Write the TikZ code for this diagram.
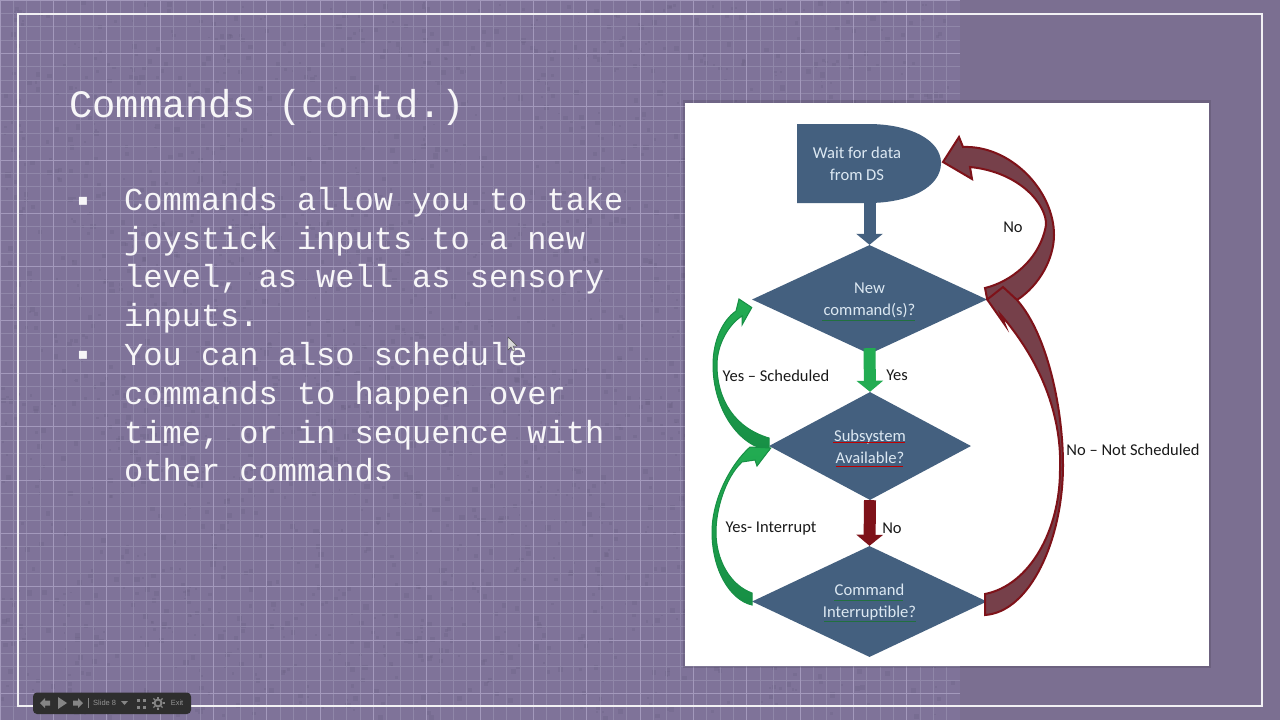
\documentclass[tikz,border=0pt]{standalone}
\usepackage{fontspec}
\setmainfont{Liberation Mono}
\newfontfamily\flowfont{Carlito}
\newfontfamily\barfont{Liberation Sans}
\newfontfamily\symfont{DejaVu Sans}
\usetikzlibrary{arrows.meta,shapes.geometric}
\definecolor{slideback}{HTML}{7B6F91}
\definecolor{gridback}{HTML}{7F7399}
\definecolor{gridspeck}{HTML}{6B6084}
\definecolor{gridminor}{HTML}{9087A9}
\definecolor{gridmajor}{HTML}{A399BC}
\definecolor{flowblue}{HTML}{44607F}
\definecolor{flowtext}{HTML}{DCE8F2}
\definecolor{flowgreen}{HTML}{22AC52}
\definecolor{flowdark}{HTML}{178F45}
\definecolor{flowred}{HTML}{7E1219}
\definecolor{curvefill}{HTML}{76404A}
\newcommand{\flowstrut}{\rule{0pt}{13pt}}
\tikzset{
  flowdiamond/.style={diamond,fill=flowblue,text=flowtext,inner sep=0pt,align=center,
    font=\flowfont\fontsize{16.6}{22}\selectfont},
  flowlabel/.style={text=black!90,inner sep=0pt,font=\flowfont\fontsize{16.5}{18}\selectfont},
  blockarrow/.style={line width=12pt,-{Triangle[length=11pt,width=26pt]}},
  curvered/.style={fill=curvefill,draw=flowred,line width=2pt,line join=miter},
  curvegreen/.style={top color=flowgreen,bottom color=flowdark,draw=flowdark,line width=1pt},
  spellred/.style={draw=red!75!black,line width=1pt},
  spellgreen/.style={draw=green!50!black,line width=0.7pt,opacity=0.5},
  barmark/.style={fill=black!48},
  barlabel/.style={text=black!42,inner sep=0pt,font=\barfont\fontsize{7.5}{9}\selectfont},
}
\begin{document}
\begin{tikzpicture}[x=1pt,y=-1pt]
  \useasboundingbox (0,0) rectangle (1280,720);
  \clip (0,0) rectangle (1280,720);
  % slide background
  \fill[slideback] (0,0) rectangle (1280,720);
  \fill[gridback] (0,0) rectangle (960,720);
  \pgfmathsetseed{8}
  \foreach \i in {1,...,2200} {
    \pgfmathsetmacro{\px}{rnd*955}
    \pgfmathsetmacro{\py}{rnd*716}
    \pgfmathsetmacro{\ps}{1.5+rnd*4}
    \fill[gridspeck,opacity=0.3] (\px,\py) rectangle (\px+\ps,\py+\ps);
  }
  \foreach \i in {0,...,71} {
    \draw[gridminor,line width=0.5pt] (\i*13.333,0) -- (\i*13.333,720);
  }
  \foreach \i in {0,...,54} {
    \draw[gridminor,line width=0.5pt] (0,\i*13.333) -- (960,\i*13.333);
  }
  \foreach \i in {0,...,17} {
    \draw[gridmajor,line width=0.7pt] (\i*53.333,0) -- (\i*53.333,720);
  }
  \foreach \i in {0,...,13} {
    \draw[gridmajor,line width=0.7pt] (0,\i*53.333) -- (960,\i*53.333);
  }
  \draw[white!90!slideback,line width=1.4pt] (18,14) rectangle (1262,706);
  % left text
  \node[anchor=base west,inner sep=0pt,text=white!94!slideback,font=\fontsize{38.8}{40}\selectfont] (title) at (69,117) {Commands (contd.)};
  \node[anchor=north west,inner sep=0pt,text=white!94!slideback,align=left,font=\fontsize{32}{38.8}\selectfont] (body) at (124,187) {Commands allow you to take\\joystick inputs to a new\\level, as well as sensory\\inputs.\\You can also schedule\\commands to happen over\\time, or in sequence with\\other commands};
  \node[text=white!94!slideback,inner sep=0pt,font=\symfont\fontsize{16}{16}\selectfont] (bulleta) at (83,201) {▪};
  \node[text=white!94!slideback,inner sep=0pt,font=\symfont\fontsize{16}{16}\selectfont] (bulletb) at (83,355) {▪};
  \fill[white!85!black,draw=black!70,line width=0.4pt] (508,337) -- (508,350) -- (511,347) -- (513,351) -- (515,350) -- (513,346) -- (517,346) -- cycle;
  % picture panel
  \fill[black,opacity=0.12] (683,100) rectangle (1211,668);
  \fill[white] (685,103) rectangle (1209,666);
  % flowchart
  \fill[flowblue] (797,124) -- (868,124) .. controls (910,124) and (941,140) .. (941,163) .. controls (941,187) and (910,203) .. (868,203) -- (797,203) -- cycle;
  \node[text=flowtext,inner sep=0pt,minimum width=120pt,minimum height=79pt,align=center,font=\flowfont\fontsize{16.6}{22}\selectfont] (wait) at (857,163.5) {Wait for data\\from DS};
  \node[flowdiamond,aspect=2.156,minimum width=235pt,minimum height=109pt] (new) at (869.5,299.5) {\flowstrut New\\command(s)?};
  \node[flowdiamond,aspect=1.87,minimum width=202pt,minimum height=108pt] (sub) at (870,446) {\flowstrut Subsystem\\Available?};
  \node[flowdiamond,aspect=2.117,minimum width=235pt,minimum height=111pt] (cmd) at (869.5,601.5) {\flowstrut Command\\Interruptible?};
  \draw[spellred] (833,442.5) -- (905,442.5);
  \draw[spellred] (836,466) -- (903,466);
  \draw[spellgreen] (822,320) -- (915,320);
  \draw[spellgreen] (834,600) -- (903,600);
  \draw[spellgreen] (824,621.5) -- (916,621.5);
  % straight arrows
  \draw[blockarrow,flowblue] (wait.south -| new.north) -- (new.north);
  \draw[blockarrow,flowgreen] ([yshift=6pt]new.south) -- (sub.north);
  \draw[blockarrow,flowred] (sub.south) -- (cmd.north);
  % curved arrows
  \draw[curvered] (985,288) .. controls (1010,282) and (1040,260) .. (1046,225) .. controls (1047,205) and (1020,172) .. (970,167) -- (972,179) -- (943,162) -- (959,137) -- (963,147) .. controls (1010,145) and (1054,190) .. (1054,235) .. controls (1054,258) and (1040,285) .. (1017,300) -- (new.east) -- cycle;
  \draw[curvered] (985,594) .. controls (1030,585) and (1060,530) .. (1060,470) .. controls (1062,420) and (1044,365) .. (1001,315) -- (1005,325) -- (new.east) -- (1003,287) -- (1017,300) .. controls (1048,335) and (1063,410) .. (1063,465) .. controls (1063,540) and (1030,612) .. (985,615) -- cycle;
  \draw[curvegreen] (713,365) .. controls (713,340) and (723,320) .. (736,311) -- (739,299) -- ([yshift=-8pt]new.west) -- (742,325) -- (742,316) .. controls (728,325) and (717,345) .. (717,365) .. controls (717,400) and (735,428) .. (769,438) -- (769,450) .. controls (740,447) and (713,410) .. (713,365) -- cycle;
  \draw[curvegreen] (752,593) .. controls (730,585) and (716,560) .. (716,532) .. controls (716,510) and (725,478) .. (742,462) -- (755,460) -- (757,466) -- ([xshift=2pt,yshift=-2pt]sub.west) -- (750,447) .. controls (730,465) and (712,500) .. (712,532) .. controls (712,570) and (730,600) .. (752,605) -- cycle;
  % labels
  \node[flowlabel] (lblno) at (1013,227) {No};
  \node[flowlabel] (lblsched) at (776,375.5) {Yes – Scheduled};
  \node[flowlabel] (lblyes) at (897,375.5) {Yes};
  \node[flowlabel] (lblint) at (771,528.5) {Yes- Interrupt};
  \node[flowlabel] (lblnob) at (892,528.5) {No};
  \node[flowlabel] (lblnot) at (1133,450) {No – Not Scheduled};
  % slide show toolbar
  \fill[black!82,rounded corners=4pt] (33,692.5) rectangle (191,714);
  \fill[barmark] (40,703) -- (45,698) -- (45,700.5) -- (50,700.5) -- (50,705.5) -- (45,705.5) -- (45,708) -- cycle;
  \fill[barmark] (58,697) -- (67,703) -- (58,709) -- cycle;
  \fill[barmark] (83,703) -- (78,698) -- (78,700.5) -- (73,700.5) -- (73,705.5) -- (78,705.5) -- (78,708) -- cycle;
  \draw[black!48,line width=0.6pt] (88.5,698) -- (88.5,708);
  \node[barlabel,anchor=west] (slidenr) at (93,702.5) {Slide 8};
  \fill[barmark] (121,701) -- (128,701) -- (124.5,705) -- cycle;
  \foreach \ax/\ay in {137/699,143/699,137/706,143/706} {
    \fill[barmark] (\ax,\ay) rectangle (\ax+3,\ay+2.5);
  }
  \draw[black!48,line width=2pt] (158,703) circle (3.5pt);
  \foreach \a in {0,45,...,315} {
    \draw[black!48,line width=1.3pt] (158,703) ++(\a:4.5) -- ++(\a:2);
  }
  \node[barlabel] (barexit) at (177,702.5) {Exit};
\end{tikzpicture}
\end{document}
